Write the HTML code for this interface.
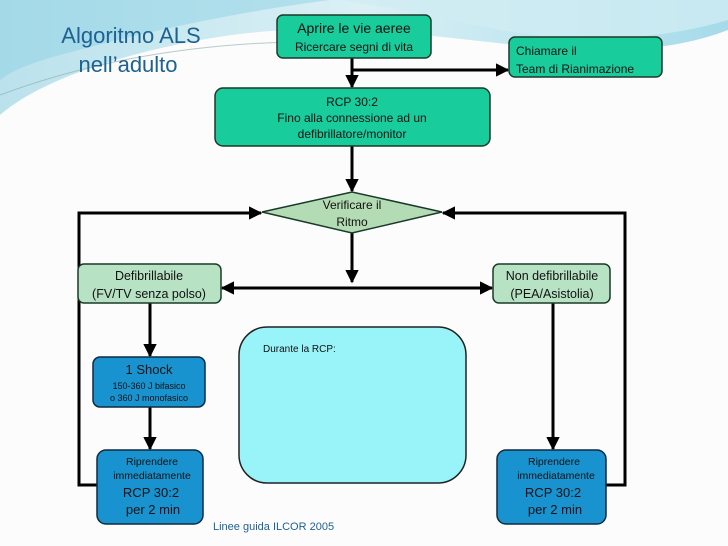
<!DOCTYPE html>
<html><head><meta charset="utf-8"><style>
body{margin:0;background:#fdfdfd}
svg{display:block}
text{font-family:"Liberation Sans",sans-serif;fill:#111}
</style></head><body>
<svg width="728" height="546" viewBox="0 0 728 546" xmlns="http://www.w3.org/2000/svg">
<defs>
<linearGradient id="g1" x1="0" y1="0" x2="1" y2="0">
<stop offset="0" stop-color="#8fd0e2"/><stop offset="0.5" stop-color="#c4e8f1"/><stop offset="1" stop-color="#6cc4de"/>
</linearGradient>
<marker id="a" viewBox="0 0 10 10" refX="9" refY="5" markerWidth="4.5" markerHeight="4.5" orient="auto"><path d="M0,0L10,5L0,10z" fill="#000"/></marker>
</defs>
<rect width="728" height="546" fill="#fcfcfc"/>
<path d="M0,0H728V30C650,60 560,50 470,40C380,30 300,22 200,40C120,55 40,80 0,115Z" fill="url(#g1)" opacity="0.6"/>
<path d="M0,0H330C250,10 150,30 60,55C30,63 10,72 0,80Z" fill="#8ed2e4" opacity="0.5"/>
<path d="M340,0H728V20C660,40 580,45 500,30C450,20 400,8 340,0Z" fill="#cfecf3" opacity="0.8"/>
<path d="M0,95C120,50 260,35 380,45" stroke="#8aa" stroke-width="1" fill="none" opacity="0.6"/>
<text x="131" y="43" font-size="22" text-anchor="middle" style="fill:#1d6290">Algoritmo ALS</text>
<text x="128" y="72" font-size="22" text-anchor="middle" style="fill:#1d6290">nell’adulto</text>

<g stroke="#000" stroke-width="3" fill="none">
<line x1="352" y1="58" x2="352" y2="87" marker-end="url(#a)"/>
<line x1="352" y1="70" x2="508" y2="70" marker-end="url(#a)"/>
<line x1="352" y1="146" x2="352" y2="191" marker-end="url(#a)"/>
<line x1="352" y1="233" x2="352" y2="282" marker-end="url(#a)"/>
<line x1="240" y1="288" x2="222" y2="288" marker-end="url(#a)"/>
<line x1="240" y1="288" x2="492" y2="288" marker-end="url(#a)"/>
<polyline points="97,485 79,485 79,213 261,213" marker-end="url(#a)"/>
<polyline points="606,485 625,485 625,213 443,213" marker-end="url(#a)"/>
<line x1="150" y1="303" x2="150" y2="356" marker-end="url(#a)"/>
<line x1="150" y1="407" x2="150" y2="449" marker-end="url(#a)"/>
<line x1="553" y1="303" x2="553" y2="449" marker-end="url(#a)"/>
</g>

<g stroke="#1a3a2a" stroke-width="1.5">
<rect x="277" y="15" width="154" height="43" rx="6" fill="#18cc9c"/>
<rect x="509" y="37" width="153" height="40" rx="6" fill="#18cc9c"/>
<rect x="215" y="88" width="275" height="58" rx="8" fill="#18cc9c"/>
<polygon points="262,212 352,192 442,212 352,233" fill="#b4dcb4"/>
<rect x="78" y="264" width="143" height="39" rx="6" fill="#b8e2c4"/>
<rect x="493" y="264" width="117" height="39" rx="6" fill="#b8e2c4"/>
<rect x="93" y="357" width="112" height="50" rx="7" fill="#1893d0" stroke="#102a40"/>
<rect x="97" y="450" width="106" height="74" rx="9" fill="#1893d0" stroke="#102a40"/>
<rect x="497" y="450" width="109" height="74" rx="9" fill="#1893d0" stroke="#102a40"/>
<rect x="239" y="327" width="227" height="156" rx="28" fill="#98f4f8" stroke="#222"/>
</g>

<g font-size="13" text-anchor="middle">
<text x="354" y="33" font-size="14">Aprire le vie aeree</text>
<text x="354" y="51" font-size="12">Ricercare segni di vita</text>
<text x="516" y="55" font-size="12" text-anchor="start">Chiamare il</text>
<text x="516" y="73" font-size="12" text-anchor="start">Team di Rianimazione</text>
<text x="352" y="106" font-size="12">RCP 30:2</text>
<text x="352" y="122" font-size="12">Fino alla connessione ad un</text>
<text x="352" y="138" font-size="12">defibrillatore/monitor</text>
<text x="352" y="209" font-size="12">Verificare il</text>
<text x="352" y="226" font-size="12">Ritmo</text>
<text x="149" y="280" font-size="12.5">Defibrillabile</text>
<text x="149" y="298" font-size="12.5">(FV/TV senza polso)</text>
<text x="552" y="280" font-size="12.5">Non defibrillabile</text>
<text x="552" y="298" font-size="12.5">(PEA/Asistolia)</text>
<text x="149" y="374" font-size="13">1 Shock</text>
<text x="149" y="389" font-size="9">150-360 J bifasico</text>
<text x="149" y="401" font-size="9">o 360 J monofasico</text>
<text x="152" y="465" font-size="10.5">Riprendere</text>
<text x="152" y="479" font-size="10.5">immediatamente</text>
<text x="151" y="497" font-size="13">RCP 30:2</text>
<text x="153" y="514" font-size="13">per 2 min</text>
<text x="554" y="465" font-size="10.5">Riprendere</text>
<text x="556" y="479" font-size="10.5">immediatamente</text>
<text x="553" y="497" font-size="13">RCP 30:2</text>
<text x="555" y="514" font-size="13">per 2 min</text>
<text x="263" y="352" font-size="10" text-anchor="start">Durante la RCP:</text>
<text x="213" y="530" font-size="11" text-anchor="start" style="fill:#1d6290">Linee guida ILCOR 2005</text>
</g>
</svg>
</body></html>
